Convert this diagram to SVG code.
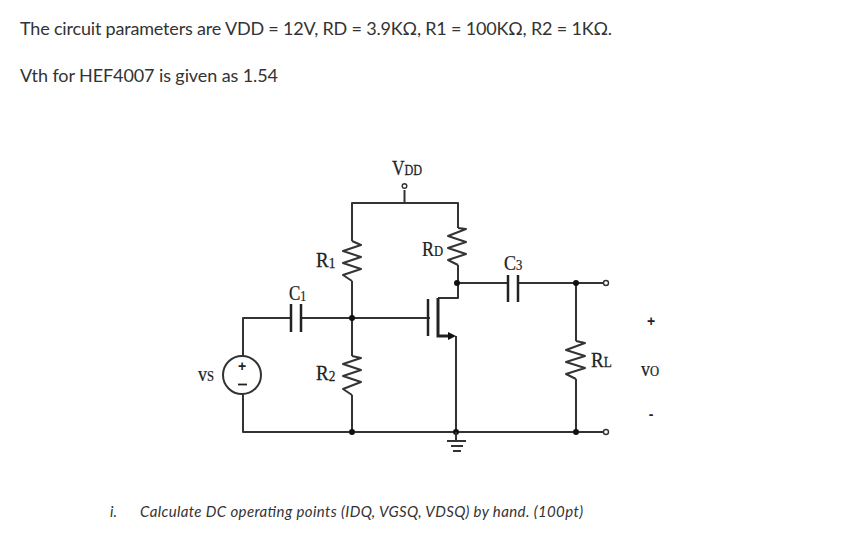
<svg xmlns="http://www.w3.org/2000/svg" width="853" height="538" viewBox="0 0 853 538">
<style>
.t{font-family:"Lato","Open Sans",sans-serif;fill:#333;font-size:18px}
.i{font-family:"Lato","Open Sans",sans-serif;fill:#333;font-size:15px;font-style:italic}
.l{font-family:"Liberation Serif",serif;fill:#222;font-size:20px;stroke:#222;stroke-width:.25}
.s{font-size:14px}
.w{fill:none;stroke:#333;stroke-width:2;stroke-linejoin:round}
.b{fill:none;stroke:#222;stroke-width:2.500}
.d{fill:#111}
.o{fill:#fff;stroke:#333;stroke-width:1.400}
.p{font-family:"Liberation Sans",sans-serif;fill:#222;font-size:14px;font-weight:bold}
</style>
<rect width="853" height="538" fill="#fff"/>
<text class="t" x="20" y="35" textLength="592">The circuit parameters are VDD = 12V, RD = 3.9KΩ, R1 = 100KΩ, R2 = 1KΩ.</text>
<text class="t" x="20" y="82" textLength="258">Vth for HEF4007 is given as 1.54</text>
<text class="i" x="110" y="517">i.</text>
<text class="i" x="140" y="517" textLength="443">Calculate DC operating points (IDQ, VGSQ, VDSQ) by hand. (100pt)</text>

<g id="connectors">
<path class="w" d="M404.500 190V203M352 241V203H458V228M352 281V356M352 395V432M458 265V298H438M456 336V432M243 356V318H291M301 318H430M458 283H508M518 283H603M576 283V341M576 379V432M243 394V432H603"/>
</g>
<g id="vdd"><circle class="o" cx="404.500" cy="186" r="2.300"/><text class="l" transform="translate(392 175) scale(.87 1)">V<tspan class="s">DD</tspan></text></g>
<g id="r1"><path class="w" d="M352 241L361 245L343 251L361 257L343 263L361 269L343 275L352 281"/><text class="l" transform="translate(316 267) scale(.95 1)">R<tspan class="s" dy="1">1</tspan></text></g>
<g id="r2"><path class="w" d="M352 356L361 358L343 364L361 370L343 376L361 382L343 389L352 395"/><text class="l" transform="translate(316 380) scale(.95 1)">R<tspan class="s" dy="1">2</tspan></text></g>
<g id="rd"><path class="w" d="M458 228L466 229L448 236L466 242L448 248L466 254L448 260L458 265"/><text class="l" transform="translate(422 256) scale(.9 1)">R<tspan class="s">D</tspan></text></g>
<g id="rl"><path class="w" d="M576 341L585 343L566 350L585 356L566 362L585 368L566 374L576 379"/><text class="l" transform="translate(591 367) scale(.95 1)">R<tspan class="s">L</tspan></text></g>
<g id="c1"><path class="b" d="M291 304V332M301 304V332"/><text class="l" transform="translate(289 300) scale(.85 1)">C<tspan class="s" dy="1">1</tspan></text></g>
<g id="c3"><path class="b" d="M508 275V302M518 275V302"/><text class="l" transform="translate(504 270) scale(.9 1)">C<tspan class="s">3</tspan></text></g>
<g id="vs"><circle cx="242" cy="375" r="19" fill="#fff" stroke="#333" stroke-width="2"/><text class="p" x="242" y="371" text-anchor="middle">+</text><path d="M238 384.500H247" stroke="#222" stroke-width="1.800"/><text class="l" transform="translate(198 381) scale(.9 1)">v<tspan class="s">S</tspan></text></g>
<g id="mosfet"><path class="b" d="M428 299V336"/><path fill="none" stroke="#222" stroke-width="3" d="M438 298V336H450"/><path class="d" d="M456 336L448 332V340Z"/></g>
<g id="junctions"><circle class="d" cx="352" cy="318" r="3"/><circle class="d" cx="352" cy="432" r="3"/><circle class="d" cx="457" cy="283" r="3"/><circle class="d" cx="456" cy="432" r="3"/><circle class="d" cx="576" cy="283" r="3"/><circle class="d" cx="576" cy="432" r="3"/></g>
<g id="ground"><path class="w" d="M456 432V441M447 441H466M451 446H463M453 451H461"/></g>
<g id="output"><circle class="o" cx="606" cy="283" r="2.500"/><circle class="o" cx="606" cy="432" r="2.500"/><text class="p" x="651" y="326" text-anchor="middle">+</text><text class="l" transform="translate(641 376) scale(.9 1)">v<tspan class="s">O</tspan></text><text class="p" x="651" y="419" text-anchor="middle">-</text></g>
</svg>
